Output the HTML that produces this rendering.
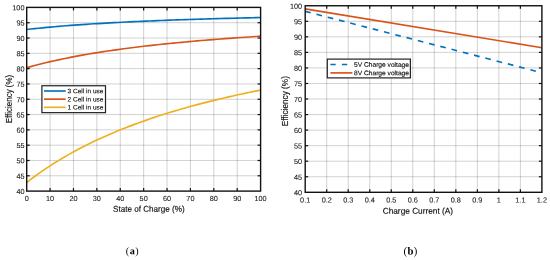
<!DOCTYPE html>
<html><head><meta charset="utf-8"><title>Efficiency</title>
<style>
html,body{margin:0;padding:0;background:#fff;}
body{width:550px;height:260px;overflow:hidden;}
svg{display:block;}
.t{font-family:"Liberation Sans",Arial,Helvetica,sans-serif;fill:#1a1a1a;}
.tick{font-size:7.3px;stroke:#1a1a1a;stroke-width:0.08px;}
.lab{font-size:8.45px;fill:#111;stroke:#111;stroke-width:0.15px;}
.leg{fill:#000;stroke:#000;stroke-width:0.1px;}
.cap{font-family:"Liberation Serif","Times New Roman",serif;font-size:10.2px;fill:#000;letter-spacing:0.45px;}
</style></head><body>
<svg width="550" height="260" viewBox="0 0 550 260">
<rect width="550" height="260" fill="#fff"/>

<g stroke="#000" stroke-opacity="0.18" stroke-width="1" fill="none">
<line x1="50.09" y1="7.40" x2="50.09" y2="191.10"/>
<line x1="73.48" y1="7.40" x2="73.48" y2="191.10"/>
<line x1="96.87" y1="7.40" x2="96.87" y2="191.10"/>
<line x1="120.26" y1="7.40" x2="120.26" y2="191.10"/>
<line x1="143.65" y1="7.40" x2="143.65" y2="191.10"/>
<line x1="167.04" y1="7.40" x2="167.04" y2="191.10"/>
<line x1="190.43" y1="7.40" x2="190.43" y2="191.10"/>
<line x1="213.82" y1="7.40" x2="213.82" y2="191.10"/>
<line x1="237.21" y1="7.40" x2="237.21" y2="191.10"/>
<line x1="26.70" y1="175.79" x2="260.60" y2="175.79"/>
<line x1="26.70" y1="160.48" x2="260.60" y2="160.48"/>
<line x1="26.70" y1="145.18" x2="260.60" y2="145.18"/>
<line x1="26.70" y1="129.87" x2="260.60" y2="129.87"/>
<line x1="26.70" y1="114.56" x2="260.60" y2="114.56"/>
<line x1="26.70" y1="99.25" x2="260.60" y2="99.25"/>
<line x1="26.70" y1="83.94" x2="260.60" y2="83.94"/>
<line x1="26.70" y1="68.63" x2="260.60" y2="68.63"/>
<line x1="26.70" y1="53.33" x2="260.60" y2="53.33"/>
<line x1="26.70" y1="38.02" x2="260.60" y2="38.02"/>
<line x1="26.70" y1="22.71" x2="260.60" y2="22.71"/>
</g>
<g fill="none" stroke-width="1.65" stroke-linejoin="round">
<polyline stroke="#0072BD" points="26.70,29.49 30.66,29.04 34.63,28.62 38.59,28.20 42.56,27.81 46.52,27.43 50.49,27.07 54.45,26.71 58.42,26.37 62.38,26.05 66.34,25.73 70.31,25.43 74.27,25.13 78.24,24.85 82.20,24.57 86.17,24.31 90.13,24.05 94.09,23.80 98.06,23.56 102.02,23.32 105.99,23.09 109.95,22.87 113.92,22.66 117.88,22.45 121.85,22.24 125.81,22.05 129.77,21.86 133.74,21.67 137.70,21.49 141.67,21.31 145.63,21.14 149.60,20.97 153.56,20.81 157.53,20.65 161.49,20.49 165.45,20.34 169.42,20.19 173.38,20.05 177.35,19.90 181.31,19.77 185.28,19.63 189.24,19.50 193.21,19.37 197.17,19.24 201.13,19.12 205.10,19.00 209.06,18.88 213.03,18.77 216.99,18.65 220.96,18.54 224.92,18.44 228.88,18.33 232.85,18.22 236.81,18.12 240.78,18.02 244.74,17.92 248.71,17.83 252.67,17.73 256.64,17.64 260.60,17.55"/>
<polyline stroke="#D95319" points="26.70,67.72 30.66,66.60 34.63,65.53 38.59,64.50 42.56,63.50 46.52,62.54 50.49,61.61 54.45,60.71 58.42,59.84 62.38,59.00 66.34,58.19 70.31,57.40 74.27,56.63 78.24,55.89 82.20,55.18 86.17,54.48 90.13,53.80 94.09,53.14 98.06,52.51 102.02,51.89 105.99,51.28 109.95,50.70 113.92,50.12 117.88,49.57 121.85,49.03 125.81,48.50 129.77,47.99 133.74,47.48 137.70,47.00 141.67,46.52 145.63,46.05 149.60,45.60 153.56,45.16 157.53,44.72 161.49,44.30 165.45,43.89 169.42,43.48 173.38,43.09 177.35,42.70 181.31,42.32 185.28,41.95 189.24,41.59 193.21,41.24 197.17,40.89 201.13,40.55 205.10,40.22 209.06,39.89 213.03,39.58 216.99,39.26 220.96,38.96 224.92,38.66 228.88,38.36 232.85,38.07 236.81,37.79 240.78,37.51 244.74,37.24 248.71,36.97 252.67,36.70 256.64,36.45 260.60,36.19"/>
<polyline stroke="#EDB120" points="26.70,182.53 30.66,179.47 34.63,176.51 38.59,173.64 42.56,170.87 46.52,168.18 50.49,165.57 54.45,163.03 58.42,160.58 62.38,158.19 66.34,155.87 70.31,153.62 74.27,151.43 78.24,149.30 82.20,147.23 86.17,145.22 90.13,143.25 94.09,141.34 98.06,139.48 102.02,137.66 105.99,135.89 109.95,134.16 113.92,132.48 117.88,130.84 121.85,129.23 125.81,127.66 129.77,126.13 133.74,124.64 137.70,123.18 141.67,121.75 145.63,120.35 149.60,118.99 153.56,117.65 157.53,116.34 161.49,115.06 165.45,113.81 169.42,112.58 173.38,111.38 177.35,110.21 181.31,109.05 185.28,107.92 189.24,106.82 193.21,105.73 197.17,104.67 201.13,103.62 205.10,102.60 209.06,101.59 213.03,100.61 216.99,99.64 220.96,98.69 224.92,97.76 228.88,96.84 232.85,95.94 236.81,95.06 240.78,94.19 244.74,93.34 248.71,92.50 252.67,91.67 256.64,90.86 260.60,90.07"/>
</g>
<g stroke="#111" stroke-width="1.4" fill="none">
<rect x="26.70" y="7.40" width="233.90" height="183.70"/>
</g>
<g stroke="#111" stroke-width="1.2" fill="none">
<line x1="50.09" y1="191.10" x2="50.09" y2="188.10"/>
<line x1="50.09" y1="7.40" x2="50.09" y2="10.40"/>
<line x1="73.48" y1="191.10" x2="73.48" y2="188.10"/>
<line x1="73.48" y1="7.40" x2="73.48" y2="10.40"/>
<line x1="96.87" y1="191.10" x2="96.87" y2="188.10"/>
<line x1="96.87" y1="7.40" x2="96.87" y2="10.40"/>
<line x1="120.26" y1="191.10" x2="120.26" y2="188.10"/>
<line x1="120.26" y1="7.40" x2="120.26" y2="10.40"/>
<line x1="143.65" y1="191.10" x2="143.65" y2="188.10"/>
<line x1="143.65" y1="7.40" x2="143.65" y2="10.40"/>
<line x1="167.04" y1="191.10" x2="167.04" y2="188.10"/>
<line x1="167.04" y1="7.40" x2="167.04" y2="10.40"/>
<line x1="190.43" y1="191.10" x2="190.43" y2="188.10"/>
<line x1="190.43" y1="7.40" x2="190.43" y2="10.40"/>
<line x1="213.82" y1="191.10" x2="213.82" y2="188.10"/>
<line x1="213.82" y1="7.40" x2="213.82" y2="10.40"/>
<line x1="237.21" y1="191.10" x2="237.21" y2="188.10"/>
<line x1="237.21" y1="7.40" x2="237.21" y2="10.40"/>
<line x1="26.70" y1="175.79" x2="29.70" y2="175.79"/>
<line x1="260.60" y1="175.79" x2="257.60" y2="175.79"/>
<line x1="26.70" y1="160.48" x2="29.70" y2="160.48"/>
<line x1="260.60" y1="160.48" x2="257.60" y2="160.48"/>
<line x1="26.70" y1="145.18" x2="29.70" y2="145.18"/>
<line x1="260.60" y1="145.18" x2="257.60" y2="145.18"/>
<line x1="26.70" y1="129.87" x2="29.70" y2="129.87"/>
<line x1="260.60" y1="129.87" x2="257.60" y2="129.87"/>
<line x1="26.70" y1="114.56" x2="29.70" y2="114.56"/>
<line x1="260.60" y1="114.56" x2="257.60" y2="114.56"/>
<line x1="26.70" y1="99.25" x2="29.70" y2="99.25"/>
<line x1="260.60" y1="99.25" x2="257.60" y2="99.25"/>
<line x1="26.70" y1="83.94" x2="29.70" y2="83.94"/>
<line x1="260.60" y1="83.94" x2="257.60" y2="83.94"/>
<line x1="26.70" y1="68.63" x2="29.70" y2="68.63"/>
<line x1="260.60" y1="68.63" x2="257.60" y2="68.63"/>
<line x1="26.70" y1="53.33" x2="29.70" y2="53.33"/>
<line x1="260.60" y1="53.33" x2="257.60" y2="53.33"/>
<line x1="26.70" y1="38.02" x2="29.70" y2="38.02"/>
<line x1="260.60" y1="38.02" x2="257.60" y2="38.02"/>
<line x1="26.70" y1="22.71" x2="29.70" y2="22.71"/>
<line x1="260.60" y1="22.71" x2="257.60" y2="22.71"/>
</g>
<g class="t tick" text-anchor="middle">
<text class="t tick" x="26.70" y="200.90" transform="rotate(0.05 26.70 200.90)" >0</text>
<text class="t tick" x="50.09" y="200.90" transform="rotate(0.05 50.09 200.90)" >10</text>
<text class="t tick" x="73.48" y="200.90" transform="rotate(0.05 73.48 200.90)" >20</text>
<text class="t tick" x="96.87" y="200.90" transform="rotate(0.05 96.87 200.90)" >30</text>
<text class="t tick" x="120.26" y="200.90" transform="rotate(0.05 120.26 200.90)" >40</text>
<text class="t tick" x="143.65" y="200.90" transform="rotate(0.05 143.65 200.90)" >50</text>
<text class="t tick" x="167.04" y="200.90" transform="rotate(0.05 167.04 200.90)" >60</text>
<text class="t tick" x="190.43" y="200.90" transform="rotate(0.05 190.43 200.90)" >70</text>
<text class="t tick" x="213.82" y="200.90" transform="rotate(0.05 213.82 200.90)" >80</text>
<text class="t tick" x="237.21" y="200.90" transform="rotate(0.05 237.21 200.90)" >90</text>
<text class="t tick" x="260.60" y="200.90" transform="rotate(0.05 260.60 200.90)" >100</text>
</g>
<g class="t tick" text-anchor="end">
<text class="t tick" x="24.50" y="194.00" transform="rotate(0.05 24.50 194.00)" >40</text>
<text class="t tick" x="24.50" y="178.69" transform="rotate(0.05 24.50 178.69)" >45</text>
<text class="t tick" x="24.50" y="163.38" transform="rotate(0.05 24.50 163.38)" >50</text>
<text class="t tick" x="24.50" y="148.08" transform="rotate(0.05 24.50 148.08)" >55</text>
<text class="t tick" x="24.50" y="132.77" transform="rotate(0.05 24.50 132.77)" >60</text>
<text class="t tick" x="24.50" y="117.46" transform="rotate(0.05 24.50 117.46)" >65</text>
<text class="t tick" x="24.50" y="102.15" transform="rotate(0.05 24.50 102.15)" >70</text>
<text class="t tick" x="24.50" y="86.84" transform="rotate(0.05 24.50 86.84)" >75</text>
<text class="t tick" x="24.50" y="71.53" transform="rotate(0.05 24.50 71.53)" >80</text>
<text class="t tick" x="24.50" y="56.23" transform="rotate(0.05 24.50 56.23)" >85</text>
<text class="t tick" x="24.50" y="40.92" transform="rotate(0.05 24.50 40.92)" >90</text>
<text class="t tick" x="24.50" y="25.61" transform="rotate(0.05 24.50 25.61)" >95</text>
<text class="t tick" x="24.50" y="10.30" transform="rotate(0.05 24.50 10.30)" >100</text>
</g>
<text class="t lab" x="148.85" y="211.70" transform="rotate(0.05 148.85 211.70)" text-anchor="middle" textLength="71.5" lengthAdjust="spacingAndGlyphs">State of Charge (%)</text>
<text class="t lab" text-anchor="middle" transform="translate(11.50,99.05) rotate(-90)" textLength="48.5" lengthAdjust="spacingAndGlyphs">Efficiency (%)</text>
<rect x="41.9" y="85.75" width="63.6" height="26.9" fill="#fff" stroke="#222" stroke-width="1.2"/>
<line x1="44.0" y1="91.00" x2="65.7" y2="91.00" stroke="#0072BD" stroke-width="1.65"/>
<text class="t leg" x="67.60" y="93.30" transform="rotate(0.05 67.60 93.30)" font-size="6.5">3 Cell in use</text>
<line x1="44.0" y1="99.15" x2="65.7" y2="99.15" stroke="#D95319" stroke-width="1.65"/>
<text class="t leg" x="67.60" y="101.45" transform="rotate(0.05 67.60 101.45)" font-size="6.5">2 Cell in use</text>
<line x1="44.0" y1="107.30" x2="65.7" y2="107.30" stroke="#EDB120" stroke-width="1.65"/>
<text class="t leg" x="67.60" y="109.60" transform="rotate(0.05 67.60 109.60)" font-size="6.5">1 Cell in use</text>
<g stroke="#000" stroke-opacity="0.18" stroke-width="1" fill="none">
<line x1="326.72" y1="5.75" x2="326.72" y2="192.30"/>
<line x1="348.24" y1="5.75" x2="348.24" y2="192.30"/>
<line x1="369.75" y1="5.75" x2="369.75" y2="192.30"/>
<line x1="391.27" y1="5.75" x2="391.27" y2="192.30"/>
<line x1="412.79" y1="5.75" x2="412.79" y2="192.30"/>
<line x1="434.31" y1="5.75" x2="434.31" y2="192.30"/>
<line x1="455.83" y1="5.75" x2="455.83" y2="192.30"/>
<line x1="477.35" y1="5.75" x2="477.35" y2="192.30"/>
<line x1="498.86" y1="5.75" x2="498.86" y2="192.30"/>
<line x1="520.38" y1="5.75" x2="520.38" y2="192.30"/>
<line x1="305.20" y1="176.75" x2="541.90" y2="176.75"/>
<line x1="305.20" y1="161.21" x2="541.90" y2="161.21"/>
<line x1="305.20" y1="145.66" x2="541.90" y2="145.66"/>
<line x1="305.20" y1="130.12" x2="541.90" y2="130.12"/>
<line x1="305.20" y1="114.57" x2="541.90" y2="114.57"/>
<line x1="305.20" y1="99.03" x2="541.90" y2="99.03"/>
<line x1="305.20" y1="83.48" x2="541.90" y2="83.48"/>
<line x1="305.20" y1="67.93" x2="541.90" y2="67.93"/>
<line x1="305.20" y1="52.39" x2="541.90" y2="52.39"/>
<line x1="305.20" y1="36.84" x2="541.90" y2="36.84"/>
<line x1="305.20" y1="21.30" x2="541.90" y2="21.30"/>
</g>
<g fill="none" stroke-width="1.65">
<polyline stroke="#0072BD" stroke-dasharray="5.7,5.93" points="305.20,11.35 541.90,72.75"/>
<polyline stroke="#D95319" points="305.20,8.86 541.90,47.72"/>
</g>
<g stroke="#111" stroke-width="1.4" fill="none">
<rect x="305.20" y="5.75" width="236.70" height="186.55"/>
</g>
<g stroke="#111" stroke-width="1.2" fill="none">
<line x1="326.72" y1="192.30" x2="326.72" y2="189.30"/>
<line x1="326.72" y1="5.75" x2="326.72" y2="8.75"/>
<line x1="348.24" y1="192.30" x2="348.24" y2="189.30"/>
<line x1="348.24" y1="5.75" x2="348.24" y2="8.75"/>
<line x1="369.75" y1="192.30" x2="369.75" y2="189.30"/>
<line x1="369.75" y1="5.75" x2="369.75" y2="8.75"/>
<line x1="391.27" y1="192.30" x2="391.27" y2="189.30"/>
<line x1="391.27" y1="5.75" x2="391.27" y2="8.75"/>
<line x1="412.79" y1="192.30" x2="412.79" y2="189.30"/>
<line x1="412.79" y1="5.75" x2="412.79" y2="8.75"/>
<line x1="434.31" y1="192.30" x2="434.31" y2="189.30"/>
<line x1="434.31" y1="5.75" x2="434.31" y2="8.75"/>
<line x1="455.83" y1="192.30" x2="455.83" y2="189.30"/>
<line x1="455.83" y1="5.75" x2="455.83" y2="8.75"/>
<line x1="477.35" y1="192.30" x2="477.35" y2="189.30"/>
<line x1="477.35" y1="5.75" x2="477.35" y2="8.75"/>
<line x1="498.86" y1="192.30" x2="498.86" y2="189.30"/>
<line x1="498.86" y1="5.75" x2="498.86" y2="8.75"/>
<line x1="520.38" y1="192.30" x2="520.38" y2="189.30"/>
<line x1="520.38" y1="5.75" x2="520.38" y2="8.75"/>
<line x1="305.20" y1="176.75" x2="308.20" y2="176.75"/>
<line x1="541.90" y1="176.75" x2="538.90" y2="176.75"/>
<line x1="305.20" y1="161.21" x2="308.20" y2="161.21"/>
<line x1="541.90" y1="161.21" x2="538.90" y2="161.21"/>
<line x1="305.20" y1="145.66" x2="308.20" y2="145.66"/>
<line x1="541.90" y1="145.66" x2="538.90" y2="145.66"/>
<line x1="305.20" y1="130.12" x2="308.20" y2="130.12"/>
<line x1="541.90" y1="130.12" x2="538.90" y2="130.12"/>
<line x1="305.20" y1="114.57" x2="308.20" y2="114.57"/>
<line x1="541.90" y1="114.57" x2="538.90" y2="114.57"/>
<line x1="305.20" y1="99.03" x2="308.20" y2="99.03"/>
<line x1="541.90" y1="99.03" x2="538.90" y2="99.03"/>
<line x1="305.20" y1="83.48" x2="308.20" y2="83.48"/>
<line x1="541.90" y1="83.48" x2="538.90" y2="83.48"/>
<line x1="305.20" y1="67.93" x2="308.20" y2="67.93"/>
<line x1="541.90" y1="67.93" x2="538.90" y2="67.93"/>
<line x1="305.20" y1="52.39" x2="308.20" y2="52.39"/>
<line x1="541.90" y1="52.39" x2="538.90" y2="52.39"/>
<line x1="305.20" y1="36.84" x2="308.20" y2="36.84"/>
<line x1="541.90" y1="36.84" x2="538.90" y2="36.84"/>
<line x1="305.20" y1="21.30" x2="308.20" y2="21.30"/>
<line x1="541.90" y1="21.30" x2="538.90" y2="21.30"/>
</g>
<g class="t tick" text-anchor="middle">
<text class="t tick" x="305.20" y="202.40" transform="rotate(0.05 305.20 202.40)" >0.1</text>
<text class="t tick" x="326.72" y="202.40" transform="rotate(0.05 326.72 202.40)" >0.2</text>
<text class="t tick" x="348.24" y="202.40" transform="rotate(0.05 348.24 202.40)" >0.3</text>
<text class="t tick" x="369.75" y="202.40" transform="rotate(0.05 369.75 202.40)" >0.4</text>
<text class="t tick" x="391.27" y="202.40" transform="rotate(0.05 391.27 202.40)" >0.5</text>
<text class="t tick" x="412.79" y="202.40" transform="rotate(0.05 412.79 202.40)" >0.6</text>
<text class="t tick" x="434.31" y="202.40" transform="rotate(0.05 434.31 202.40)" >0.7</text>
<text class="t tick" x="455.83" y="202.40" transform="rotate(0.05 455.83 202.40)" >0.8</text>
<text class="t tick" x="477.35" y="202.40" transform="rotate(0.05 477.35 202.40)" >0.9</text>
<text class="t tick" x="498.86" y="202.40" transform="rotate(0.05 498.86 202.40)" >1</text>
<text class="t tick" x="520.38" y="202.40" transform="rotate(0.05 520.38 202.40)" >1.1</text>
<text class="t tick" x="541.90" y="202.40" transform="rotate(0.05 541.90 202.40)" >1.2</text>
</g>
<g class="t tick" text-anchor="end">
<text class="t tick" x="302.20" y="195.20" transform="rotate(0.05 302.20 195.20)" >40</text>
<text class="t tick" x="302.20" y="179.65" transform="rotate(0.05 302.20 179.65)" >45</text>
<text class="t tick" x="302.20" y="164.11" transform="rotate(0.05 302.20 164.11)" >50</text>
<text class="t tick" x="302.20" y="148.56" transform="rotate(0.05 302.20 148.56)" >55</text>
<text class="t tick" x="302.20" y="133.02" transform="rotate(0.05 302.20 133.02)" >60</text>
<text class="t tick" x="302.20" y="117.47" transform="rotate(0.05 302.20 117.47)" >65</text>
<text class="t tick" x="302.20" y="101.93" transform="rotate(0.05 302.20 101.93)" >70</text>
<text class="t tick" x="302.20" y="86.38" transform="rotate(0.05 302.20 86.38)" >75</text>
<text class="t tick" x="302.20" y="70.83" transform="rotate(0.05 302.20 70.83)" >80</text>
<text class="t tick" x="302.20" y="55.29" transform="rotate(0.05 302.20 55.29)" >85</text>
<text class="t tick" x="302.20" y="39.74" transform="rotate(0.05 302.20 39.74)" >90</text>
<text class="t tick" x="302.20" y="24.20" transform="rotate(0.05 302.20 24.20)" >95</text>
<text class="t tick" x="302.20" y="8.65" transform="rotate(0.05 302.20 8.65)" >100</text>
</g>
<text class="t lab" x="417.90" y="213.70" transform="rotate(0.05 417.90 213.70)" text-anchor="middle" textLength="70.4" lengthAdjust="spacingAndGlyphs">Charge Current (A)</text>
<text class="t lab" text-anchor="middle" transform="translate(288.20,101.20) rotate(-90)" textLength="50.2" lengthAdjust="spacingAndGlyphs">Efficiency (%)</text>
<rect x="327.3" y="59.1" width="83.1" height="18.8" fill="#fff" stroke="#222" stroke-width="1.2"/>
<line x1="330.4" y1="64.5" x2="347.4" y2="64.5" stroke="#0072BD" stroke-width="1.65" stroke-dasharray="5.3,6.2"/>
<text class="t leg" x="354.00" y="66.85" transform="rotate(0.05 354.00 66.85)" font-size="6.65">5V Charge voltage</text>
<line x1="330.4" y1="72.9" x2="352.4" y2="72.9" stroke="#D95319" stroke-width="1.65"/>
<text class="t leg" x="354.00" y="75.25" transform="rotate(0.05 354.00 75.25)" font-size="6.65">8V Charge voltage</text>
<text class="cap" x="132.40" y="254.30" transform="rotate(0.05 132.40 254.30)" text-anchor="middle">(<tspan font-weight="bold">a</tspan>)</text>
<text class="cap" x="410.60" y="254.40" transform="rotate(0.05 410.60 254.40)" text-anchor="middle" style="font-size:10.7px">(<tspan font-weight="bold">b</tspan>)</text>
</svg></body></html>
